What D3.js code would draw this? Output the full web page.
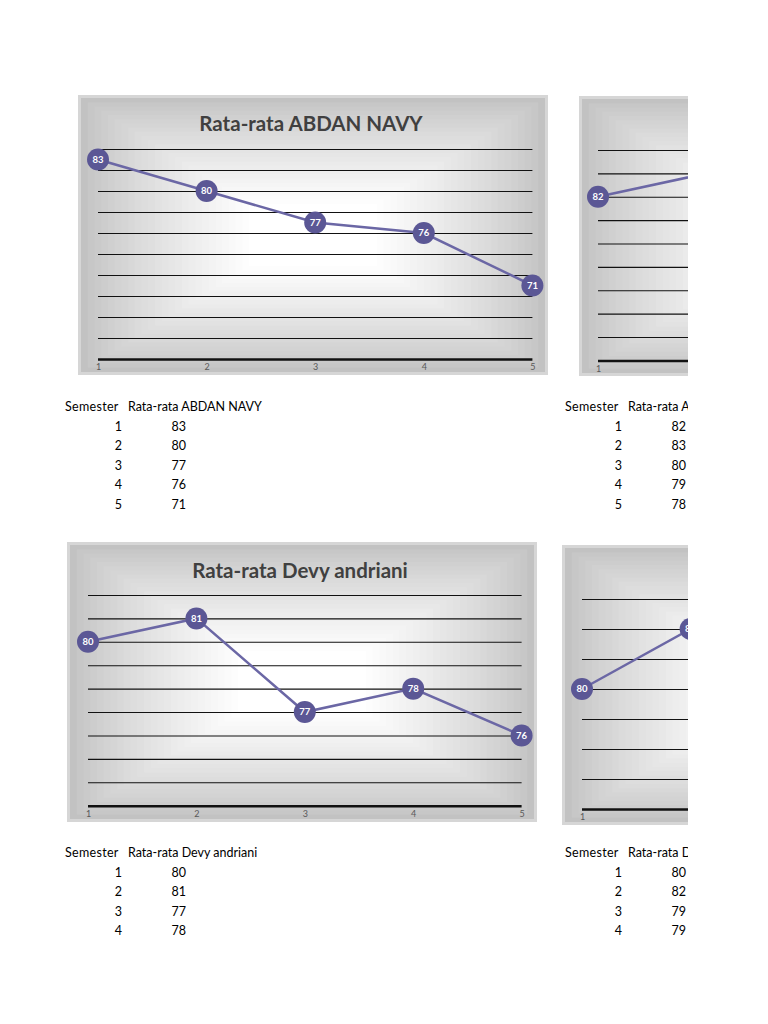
<!DOCTYPE html>
<html>
<head>
<meta charset="utf-8">
<script src="https://cdn.jsdelivr.net/npm/d3@7"></script>
<style>
body { margin: 0; background: #fff; }
</style>
</head>
<body>
<script>
// data
var semesters = [1, 2, 3, 4, 5];
var abdanNavy = [83, 80, 77, 76, 71];
var studentB = [82, 83, 80, 79, 78];
var devyAndriani = [80, 81, 77, 78, 76];
var studentD = [80, 82, 79, 79];
var titles = ['Rata-rata ABDAN NAVY', 'Rata-rata A', 'Rata-rata Devy andriani', 'Rata-rata D'];

var font = 'Lato, "Open Sans", sans-serif';
var pageRight = 688; // the page picture is cut off here

var svg = d3.select('body')
	.append('svg')
	.attr('width', 768)
	.attr('height', 1024);

svg.append('clipPath').attr('id', 'page')
	.append('rect').attr('x', 0).attr('y', 0).attr('width', pageRight).attr('height', 1024);

var page = svg.append('g').attr('clip-path', 'url(#page)');

// one chart panel
function drawChart(opt) {
	var w = 470, h = 280;
	var g = page.append('g').attr('transform', 'translate(' + opt.x + ', ' + opt.y + ')');
	var limit = pageRight - opt.x - opt.left; // visible width inside the plot

	// stepped "rectangular" gradient background
	var steps = 26;
	var shade = d3.interpolateRgb('#c2c2c2', '#ffffff');
	g.append('rect')
		.attr('width', w).attr('height', h)
		.attr('fill', '#d6d6d6');
	g.selectAll('.bg')
		.data(d3.range(steps))
		.enter()
		.append('rect')
		.attr('class', 'bg')
		.attr('x', function(i) { return 3 + i * (w / 2 - 60) / steps; })
		.attr('y', function(i) { return 3 + i * (h / 2 - 30) / steps; })
		.attr('width', function(i) { return w - 6 - 2 * i * (w / 2 - 60) / steps; })
		.attr('height', function(i) { return h - 6 - 2 * i * (h / 2 - 30) / steps; })
		.attr('fill', function(i) { return shade(Math.pow(i / (steps - 1), 0.8)); });

	if (opt.showTitle) {
		g.append('text')
			.attr('x', w / 2 - 2)
			.attr('y', 36)
			.attr('text-anchor', 'middle')
			.attr('font-family', font)
			.attr('font-weight', 'bold')
			.attr('font-size', '20.5px')
			.attr('fill', '#404040')
			.text(opt.title);
	}

	var plot = g.append('g').attr('transform', 'translate(' + opt.left + ', ' + opt.top + ')');

	var x = d3.scaleLinear().domain([1, 5]).range([0, opt.step * 4]);
	var y = d3.scaleLinear().domain(opt.domain).range([opt.plotH, 0]);
	var ticks = d3.range(opt.domain[0], opt.domain[1] + 0.001, opt.tick);

	var grid = plot.append('g')
		.call(d3.axisLeft(y).tickValues(ticks).tickSize(-opt.step * 4).tickFormat(''));
	grid.select('.domain').remove();
	grid.selectAll('line')
		.attr('stroke', '#111')
		.attr('stroke-width', function(d) { return d === opt.domain[0] ? 2.5 : 1.1; });

	var shownTicks = semesters.filter(function(s) { return x(s) - 3 < limit; });
	var xAxis = plot.append('g')
		.attr('transform', 'translate(0, ' + opt.plotH + ')')
		.call(d3.axisBottom(x).tickValues(shownTicks).tickSize(0).tickPadding(5).tickFormat(d3.format('d')));
	xAxis.select('.domain').remove();
	xAxis.selectAll('text')
		.attr('font-family', font)
		.attr('font-size', '9px')
		.attr('fill', '#595959');

	var pts = opt.values.map(function(v, i) { return [semesters[i], v]; });

	plot.append('path')
		.datum(pts)
		.attr('fill', 'none')
		.attr('stroke', '#6b67a5')
		.attr('stroke-width', 2.5)
		.attr('d', d3.line()
			.x(function(d) { return x(d[0]); })
			.y(function(d) { return y(d[1]); }));

	plot.selectAll('.dot')
		.data(pts)
		.enter()
		.append('circle')
		.attr('class', 'dot')
		.attr('cx', function(d) { return x(d[0]); })
		.attr('cy', function(d) { return y(d[1]); })
		.attr('r', 11)
		.attr('fill', '#5b5795');

	plot.selectAll('.lbl')
		.data(pts.filter(function(d) { return x(d[0]) - 6 < limit; }))
		.enter()
		.append('text')
		.attr('class', 'lbl')
		.attr('x', function(d) { return x(d[0]); })
		.attr('y', function(d) { return y(d[1]); })
		.attr('dy', '0.35em')
		.attr('text-anchor', 'middle')
		.attr('font-family', font)
		.attr('font-weight', 'bold')
		.attr('font-size', '9.5px')
		.attr('fill', '#fff')
		.text(function(d) { return d[1]; });
}

// data table below each chart
function drawTable(opt) {
	var g = page.append('g');
	var rowY = function(i) { return opt.y + i * 19.5; };

	g.append('text')
		.attr('x', opt.x)
		.attr('y', rowY(0))
		.attr('font-family', font)
		.attr('font-size', '12.5px')
		.attr('letter-spacing', '0.3px')
		.attr('fill', '#000')
		.text('Semester');
	g.append('text')
		.attr('x', opt.x + 63)
		.attr('y', rowY(0))
		.attr('font-family', font)
		.attr('font-size', '12.5px')
		.attr('fill', '#000')
		.text(opt.title);

	var rows = opt.values.slice(0, opt.rows);
	g.selectAll('.sem')
		.data(rows)
		.enter()
		.append('text')
		.attr('x', opt.x + 57)
		.attr('y', function(d, i) { return rowY(i + 1); })
		.attr('text-anchor', 'end')
		.attr('font-family', font)
		.attr('font-size', '12.5px')
		.text(function(d, i) { return semesters[i]; });
	g.selectAll('.val')
		.data(rows)
		.enter()
		.append('text')
		.attr('x', opt.x + 121)
		.attr('y', function(d, i) { return rowY(i + 1); })
		.attr('text-anchor', 'end')
		.attr('font-family', font)
		.attr('font-size', '12.5px')
		.text(function(d) { return d; });
}

drawChart({ x: 78, y: 95, left: 20, top: 54, step: 108.6, plotH: 210, domain: [64, 84], tick: 2,
	values: abdanNavy, title: titles[0], showTitle: true });
drawChart({ x: 579, y: 96, left: 19, top: 54, step: 108.6, plotH: 210.4, domain: [75, 84], tick: 1,
	values: studentB, title: titles[1], showTitle: false });
drawChart({ x: 67, y: 542, left: 21, top: 53, step: 108.4, plotH: 210.7, domain: [73, 82], tick: 1,
	values: devyAndriani, title: titles[2], showTitle: true });
drawChart({ x: 562, y: 545, left: 20, top: 54, step: 108.6, plotH: 210, domain: [76, 83], tick: 1,
	values: studentD, title: titles[3], showTitle: false });

drawTable({ x: 65, y: 411, title: titles[0], values: abdanNavy, rows: 5 });
drawTable({ x: 565, y: 411, title: titles[1], values: studentB, rows: 5 });
drawTable({ x: 65, y: 857, title: titles[2], values: devyAndriani, rows: 4 });
drawTable({ x: 565, y: 857, title: titles[3], values: studentD, rows: 4 });
</script>
</body>
</html>
